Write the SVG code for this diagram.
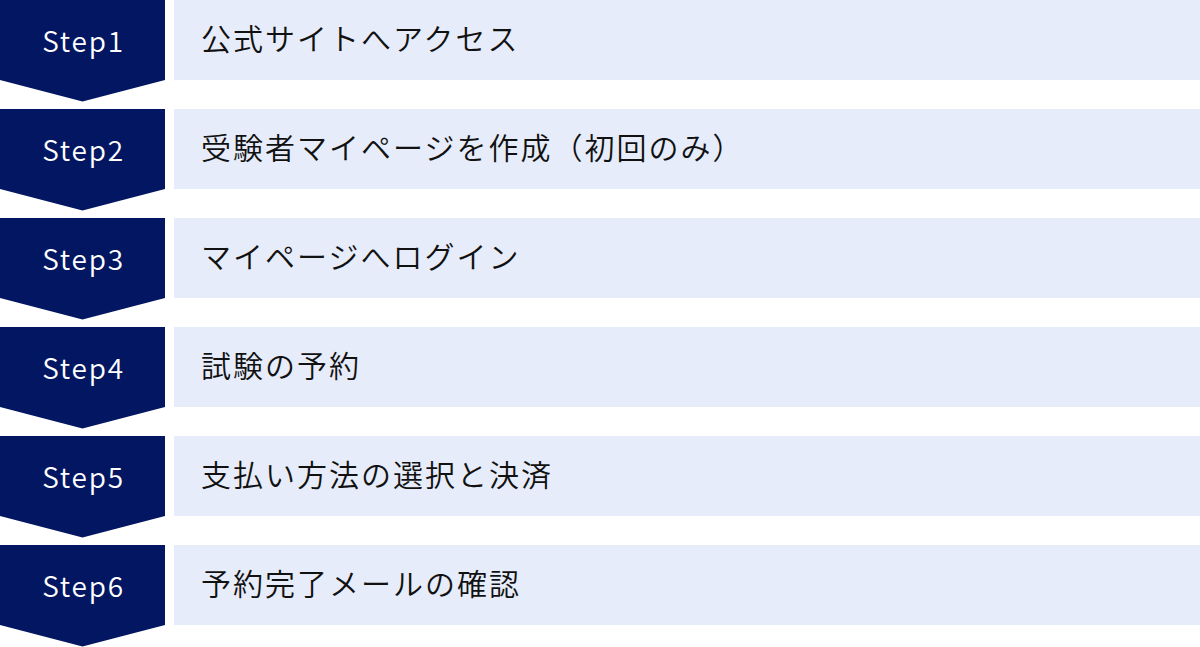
<svg xmlns="http://www.w3.org/2000/svg" width="1200" height="647" viewBox="0 0 1200 647">
<defs>
<style>
.badge{fill:#021661}
.bar{fill:#E6ECF9}
.step{font-family:"Noto Sans CJK JP","Noto Sans",sans-serif;font-size:28px;font-weight:350;fill:#ffffff;text-anchor:middle;letter-spacing:1.8px}
.label{font-family:"Noto Sans CJK JP",sans-serif;font-size:30px;font-weight:350;fill:#111111;letter-spacing:2px}
</style>
<path id="arrow" d="M0 0 H165 V80 L82.5 101.5 L0 80 Z"/>
</defs>
<rect width="1200" height="647" fill="#ffffff"/>
<g id="connectors"></g>
<g id="step1" transform="translate(0,0)">
<use href="#arrow" class="badge"/><rect class="bar" x="174" y="0" width="1026" height="80"/>
<text class="step" x="83.5" y="52">Step1</text><text class="label" x="201" y="50">公式サイトへアクセス</text>
</g>
<g id="step2" transform="translate(0,109)">
<use href="#arrow" class="badge"/><rect class="bar" x="174" y="0" width="1026" height="80"/>
<text class="step" x="83.5" y="52">Step2</text><text class="label" x="201" y="50">受験者マイページを作成（初回のみ）</text>
</g>
<g id="step3" transform="translate(0,218)">
<use href="#arrow" class="badge"/><rect class="bar" x="174" y="0" width="1026" height="80"/>
<text class="step" x="83.5" y="52">Step3</text><text class="label" x="201" y="50">マイページへログイン</text>
</g>
<g id="step4" transform="translate(0,327)">
<use href="#arrow" class="badge"/><rect class="bar" x="174" y="0" width="1026" height="80"/>
<text class="step" x="83.5" y="52">Step4</text><text class="label" x="201" y="50">試験の予約</text>
</g>
<g id="step5" transform="translate(0,436)">
<use href="#arrow" class="badge"/><rect class="bar" x="174" y="0" width="1026" height="80"/>
<text class="step" x="83.5" y="52">Step5</text><text class="label" x="201" y="50">支払い方法の選択と決済</text>
</g>
<g id="step6" transform="translate(0,545)">
<use href="#arrow" class="badge"/><rect class="bar" x="174" y="0" width="1026" height="80"/>
<text class="step" x="83.5" y="52">Step6</text><text class="label" x="201" y="50">予約完了メールの確認</text>
</g>
</svg>
